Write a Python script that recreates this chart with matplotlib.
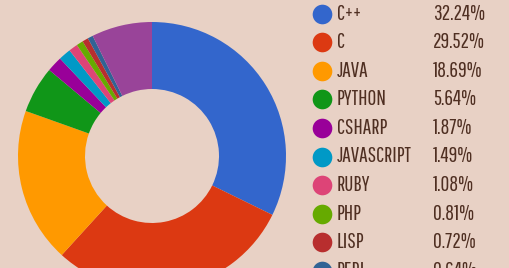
import matplotlib
matplotlib.use("Agg")
import matplotlib.pyplot as plt

# Share of languages (percent), clockwise from 12 o'clock
languages = ['C++', 'C', 'JAVA', 'PYTHON', 'CSHARP', 'JAVASCRIPT', 'RUBY', 'PHP', 'LISP', 'PERL', 'OTHER']
shares = [32.24, 29.52, 18.69, 5.64, 1.87, 1.49, 1.08, 0.81, 0.72, 0.64, 7.30]
colors = ['#3366cc', '#dc3912', '#ff9900', '#109618', '#990099', '#0099c6',
          '#dd4477', '#66aa00', '#b82e2e', '#316395', '#994499']

bg = '#e8d1c5'
text_color = '#4f2f22'

fig = plt.figure(figsize=(5.1, 2.68), dpi=100, facecolor=bg)
ax = fig.add_axes([0, 0, 1, 1])
ax.set_facecolor(bg)

# Donut, centre and radius in pixel units
ax.pie(shares, colors=colors, startangle=90, counterclock=False,
       center=(152, 112), radius=134, frame=True,
       wedgeprops=dict(width=67, linewidth=0))
ax.set_xlim(0, 510)
ax.set_ylim(0, 268)
ax.set_aspect('equal')
ax.axis('off')

# Legend drawn by hand
font = dict(family=['Pathway Gothic One', 'Oswald', 'DejaVu Sans'],
            fontsize=15.5, color=text_color)
for i, (name, val, col) in enumerate(zip(languages, shares, colors)):
    y = 268 - (13.5 + i * 28.6)
    ax.scatter([322], [y], s=200, color=col, linewidths=0, zorder=3)
    ax.text(337, y, name, va='center', ha='left', **font)
    ax.text(433, y, '%.2f%%' % val, va='center', ha='left', **font)

fig.savefig('out.png', dpi=100, facecolor=bg)
